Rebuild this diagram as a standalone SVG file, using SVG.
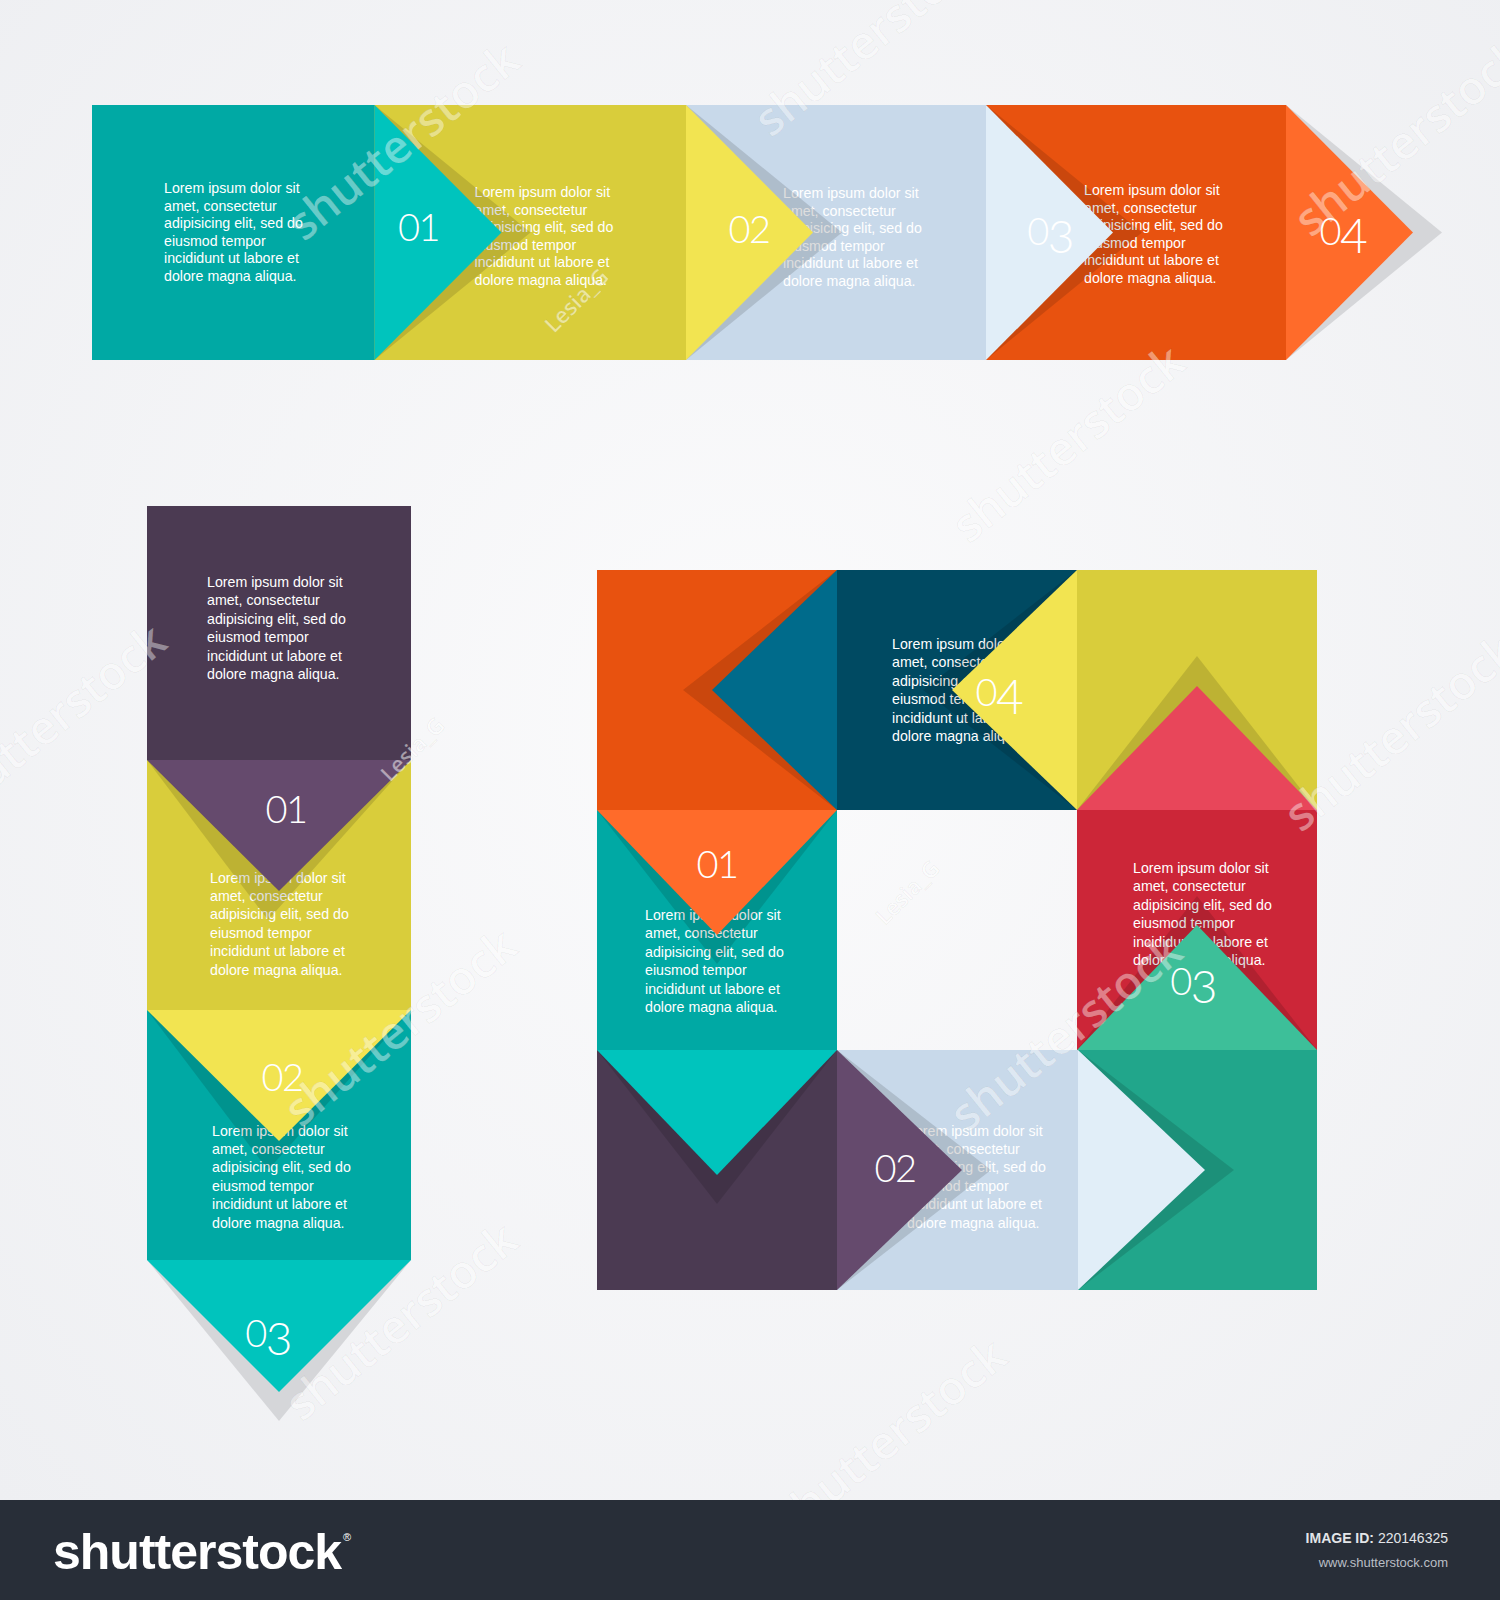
<svg xmlns="http://www.w3.org/2000/svg" width="1500" height="1600" viewBox="0 0 1500 1600">
<defs>
<radialGradient id="bg" cx="50%" cy="45%" r="70%">
<stop offset="0" stop-color="#FBFBFC"/>
<stop offset="1" stop-color="#EEEFF2"/>
</radialGradient>
<style>
.body{font-family:"Liberation Sans",Arial,sans-serif;font-size:14.2px;fill:#fff}
.num{font-family:Lato,"Liberation Sans",sans-serif;font-weight:300;font-size:38px;fill:#fff;text-anchor:middle;letter-spacing:-1.5px}
.sh{fill:#000;fill-opacity:.13}
.shg{fill:#D5D6D9}
.wm{font-family:"Open Sans","Liberation Sans",sans-serif;font-weight:600;font-size:46px;fill:#fff;fill-opacity:.42;stroke:#000;stroke-opacity:.05;stroke-width:1}
.wl{font-family:"Open Sans","Liberation Sans",sans-serif;font-weight:600;font-size:22px;fill:#fff;fill-opacity:.5;stroke:#000;stroke-opacity:.05;stroke-width:1}
</style>
</defs>
<rect width="1500" height="1600" fill="url(#bg)"/>

<!-- ===== Horizontal banner ===== -->
<g id="banner">
<g id="h-rects">
<rect x="92" y="105" width="283" height="255" fill="#00A9A4"/>
<rect x="374.5" y="105" width="312" height="255" fill="#D9CD3B"/>
<rect x="686" y="105" width="300.5" height="255" fill="#C8D9EA"/>
<rect x="986" y="105" width="300" height="255" fill="#E8520F"/>
</g>
<g id="h-texts">
<text class="body" transform="translate(164,193)"><tspan x="0">Lorem ipsum dolor sit</tspan><tspan x="0" dy="17.6">amet, consectetur</tspan><tspan x="0" dy="17.6">adipisicing elit, sed do</tspan><tspan x="0" dy="17.6">eiusmod tempor</tspan><tspan x="0" dy="17.6">incididunt ut labore et</tspan><tspan x="0" dy="17.6">dolore magna aliqua.</tspan></text>
<text class="body" transform="translate(474.5,197)"><tspan x="0">Lorem ipsum dolor sit</tspan><tspan x="0" dy="17.6">amet, consectetur</tspan><tspan x="0" dy="17.6">adipisicing elit, sed do</tspan><tspan x="0" dy="17.6">eiusmod tempor</tspan><tspan x="0" dy="17.6">incididunt ut labore et</tspan><tspan x="0" dy="17.6">dolore magna aliqua.</tspan></text>
<text class="body" transform="translate(783,198)"><tspan x="0">Lorem ipsum dolor sit</tspan><tspan x="0" dy="17.6">amet, consectetur</tspan><tspan x="0" dy="17.6">adipisicing elit, sed do</tspan><tspan x="0" dy="17.6">eiusmod tempor</tspan><tspan x="0" dy="17.6">incididunt ut labore et</tspan><tspan x="0" dy="17.6">dolore magna aliqua.</tspan></text>
<text class="body" transform="translate(1084,195)"><tspan x="0">Lorem ipsum dolor sit</tspan><tspan x="0" dy="17.6">amet, consectetur</tspan><tspan x="0" dy="17.6">adipisicing elit, sed do</tspan><tspan x="0" dy="17.6">eiusmod tempor</tspan><tspan x="0" dy="17.6">incididunt ut labore et</tspan><tspan x="0" dy="17.6">dolore magna aliqua.</tspan></text>
</g>
<g id="h-arrows">
<polygon class="sh" points="374.5,105 530.5,232.5 374.5,360"/>
<polygon fill="#00C4BD" points="374.5,105 501.5,232.5 374.5,360"/>
<polygon class="sh" points="686,105 842,232.5 686,360"/>
<polygon fill="#F2E451" points="686,105 813,232.5 686,360"/>
<polygon class="sh" points="986,105 1142,232.5 986,360"/>
<polygon fill="#E1EEF8" points="986,105 1113,232.5 986,360"/>
<polygon class="shg" points="1286,105 1442,232.5 1286,360"/>
<polygon fill="#FF6B2A" points="1286,105 1413,232.5 1286,360"/>
</g>
<g id="h-nums">
<text class="num" x="418.5" y="241">01</text>
<text class="num" x="749" y="243">02</text>
<text class="num" x="1050" y="245">0<tspan font-size="46" dy="8">3</tspan></text>
<text class="num" x="1343" y="245">0<tspan font-size="48" dy="8">4</tspan></text>
</g>
</g>

<!-- ===== Vertical column ===== -->
<g id="column">
<g id="v-rects">
<rect x="147" y="506" width="264" height="254.5" fill="#4B3A52"/>
<rect x="147" y="760" width="264" height="250.5" fill="#D9CD3B"/>
<rect x="147" y="1010" width="264" height="250" fill="#00A9A4"/>
</g>
<g id="v-texts">
<text class="body" transform="translate(207,587)"><tspan x="0">Lorem ipsum dolor sit</tspan><tspan x="0" dy="18.4">amet, consectetur</tspan><tspan x="0" dy="18.4">adipisicing elit, sed do</tspan><tspan x="0" dy="18.4">eiusmod tempor</tspan><tspan x="0" dy="18.4">incididunt ut labore et</tspan><tspan x="0" dy="18.4">dolore magna aliqua.</tspan></text>
<text class="body" transform="translate(210,882.5)"><tspan x="0">Lorem ipsum dolor sit</tspan><tspan x="0" dy="18.4">amet, consectetur</tspan><tspan x="0" dy="18.4">adipisicing elit, sed do</tspan><tspan x="0" dy="18.4">eiusmod tempor</tspan><tspan x="0" dy="18.4">incididunt ut labore et</tspan><tspan x="0" dy="18.4">dolore magna aliqua.</tspan></text>
<text class="body" transform="translate(212,1135.5)"><tspan x="0">Lorem ipsum dolor sit</tspan><tspan x="0" dy="18.4">amet, consectetur</tspan><tspan x="0" dy="18.4">adipisicing elit, sed do</tspan><tspan x="0" dy="18.4">eiusmod tempor</tspan><tspan x="0" dy="18.4">incididunt ut labore et</tspan><tspan x="0" dy="18.4">dolore magna aliqua.</tspan></text>
</g>
<g id="v-arrows">
<polygon class="sh" points="147,760 268,920 411,760"/>
<polygon fill="#654A6D" points="147,760 279,891 411,760"/>
<polygon class="sh" points="147,1010 268,1170 411,1010"/>
<polygon fill="#F2E451" points="147,1010 279,1141 411,1010"/>
<polygon class="shg" points="147,1260 279,1421 411,1260"/>
<polygon fill="#00C4BD" points="147,1260 279,1392 411,1260"/>
</g>
<g id="v-nums">
<text class="num" x="286" y="822.5">01</text>
<text class="num" x="282" y="1091">02</text>
<text class="num" x="268" y="1347">0<tspan font-size="46" dy="8">3</tspan></text>
</g>
</g>

<!-- ===== Square ===== -->
<g id="square">
<g id="s-rects">
<rect x="597" y="570" width="240" height="240" fill="#E8520F"/>
<rect x="837" y="570" width="240" height="240" fill="#004A62"/>
<rect x="1077" y="570" width="240" height="240" fill="#D9CD3B"/>
<rect x="597" y="810" width="240" height="240" fill="#00A9A4"/>
<rect x="1077" y="810" width="240" height="240" fill="#CC2638"/>
<rect x="597" y="1050" width="240" height="240" fill="#4B3A52"/>
<rect x="837" y="1050" width="241" height="240" fill="#C8D9EA"/>
<rect x="1078" y="1050" width="239" height="240" fill="#21A68B"/>
</g>
<g id="s-texts">
<text class="body" transform="translate(892,649)"><tspan x="0">Lorem ipsum dolor sit</tspan><tspan x="0" dy="18.4">amet, consectetur</tspan><tspan x="0" dy="18.4">adipisicing elit, sed do</tspan><tspan x="0" dy="18.4">eiusmod tempor</tspan><tspan x="0" dy="18.4">incididunt ut labore et</tspan><tspan x="0" dy="18.4">dolore magna aliqua.</tspan></text>
<text class="body" transform="translate(645,920)"><tspan x="0">Lorem ipsum dolor sit</tspan><tspan x="0" dy="18.4">amet, consectetur</tspan><tspan x="0" dy="18.4">adipisicing elit, sed do</tspan><tspan x="0" dy="18.4">eiusmod tempor</tspan><tspan x="0" dy="18.4">incididunt ut labore et</tspan><tspan x="0" dy="18.4">dolore magna aliqua.</tspan></text>
<text class="body" transform="translate(1133,873)"><tspan x="0">Lorem ipsum dolor sit</tspan><tspan x="0" dy="18.4">amet, consectetur</tspan><tspan x="0" dy="18.4">adipisicing elit, sed do</tspan><tspan x="0" dy="18.4">eiusmod tempor</tspan><tspan x="0" dy="18.4">incididunt ut labore et</tspan><tspan x="0" dy="18.4">dolore magna aliqua.</tspan></text>
<text class="body" transform="translate(907,1135.5)"><tspan x="0">Lorem ipsum dolor sit</tspan><tspan x="0" dy="18.4">amet, consectetur</tspan><tspan x="0" dy="18.4">adipisicing elit, sed do</tspan><tspan x="0" dy="18.4">eiusmod tempor</tspan><tspan x="0" dy="18.4">incididunt ut labore et</tspan><tspan x="0" dy="18.4">dolore magna aliqua.</tspan></text>
</g>
<g id="s-arrows">
<polygon class="sh" points="837,570 683,690 837,810"/>
<polygon fill="#006B8B" points="837,570 712,690 837,810"/>
<polygon class="sh" points="1077,570 923,690 1077,810"/>
<polygon fill="#F2E451" points="1077,570 952,690 1077,810"/>
<polygon class="sh" points="1077,810 1197,656 1317,810"/>
<polygon fill="#E8465A" points="1077,810 1197,686 1317,810"/>
<polygon class="sh" points="597,810 717,964 837,810"/>
<polygon fill="#FF6B2A" points="597,810 717,935 837,810"/>
<polygon class="sh" points="1077,1050 1197,896 1317,1050"/>
<polygon fill="#3DBF99" points="1077,1050 1197,925 1317,1050"/>
<polygon class="sh" points="597,1050 717,1204 837,1050"/>
<polygon fill="#00C4BD" points="597,1050 717,1175 837,1050"/>
<polygon class="sh" points="837,1050 991,1170 837,1290"/>
<polygon fill="#654A6D" points="837,1050 962,1170 837,1290"/>
<polygon class="sh" points="1078,1050 1234,1170 1078,1290"/>
<polygon fill="#E1EEF8" points="1078,1050 1205,1170 1078,1290"/>
</g>
<g id="s-nums">
<text class="num" x="717" y="877.5">01</text>
<text class="num" x="895" y="1181.5">02</text>
<text class="num" x="1193" y="995">0<tspan font-size="46" dy="8">3</tspan></text>
<text class="num" x="999" y="706">0<tspan font-size="48" dy="8">4</tspan></text>
</g>
</g>

<!-- ===== Watermarks ===== -->
<g id="watermarks">
<text class="wm" transform="translate(413,154) rotate(-39)" text-anchor="middle">shutterstock</text>
<text class="wm" transform="translate(880,50) rotate(-39)" text-anchor="middle">shutterstock</text>
<text class="wm" transform="translate(1420,150) rotate(-39)" text-anchor="middle">shutterstock</text>
<text class="wm" transform="translate(1078,456) rotate(-39)" text-anchor="middle">shutterstock</text>
<text class="wm" transform="translate(60,735) rotate(-39)" text-anchor="middle">shutterstock</text>
<text class="wm" transform="translate(410,1040) rotate(-39)" text-anchor="middle">shutterstock</text>
<text class="wm" transform="translate(1410,745) rotate(-39)" text-anchor="middle">shutterstock</text>
<text class="wm" transform="translate(1076,1045) rotate(-39)" text-anchor="middle">shutterstock</text>
<text class="wm" transform="translate(411,1334) rotate(-39)" text-anchor="middle">shutterstock</text>
<text class="wm" transform="translate(900,1450) rotate(-39)" text-anchor="middle">shutterstock</text>
<text class="wl" transform="translate(582,306) rotate(-45)" text-anchor="middle">Lesia_G</text>
<text class="wl" transform="translate(418,755) rotate(-45)" text-anchor="middle">Lesia_G</text>
<text class="wl" transform="translate(913,898) rotate(-45)" text-anchor="middle">Lesia_G</text>
</g>

<!-- ===== Footer ===== -->
<g id="footer">
<rect x="0" y="1500" width="1500" height="100" fill="#282E38"/>
<text x="53" y="1569" font-family="'Liberation Sans',Arial,sans-serif" font-weight="700" font-size="50" letter-spacing="-1" fill="#fff">shutterstock</text>
<text x="343" y="1541" font-family="'Liberation Sans',Arial,sans-serif" font-size="11" fill="#fff">®</text>
<text x="1448" y="1543" text-anchor="end" font-family="'Liberation Sans',Arial,sans-serif" font-size="14" fill="#E3E5E8"><tspan font-weight="700">IMAGE ID:</tspan> 220146325</text>
<text x="1448" y="1567" text-anchor="end" font-family="'Liberation Sans',Arial,sans-serif" font-size="13" fill="#B9BEC5">www.shutterstock.com</text>
</g>
</svg>
